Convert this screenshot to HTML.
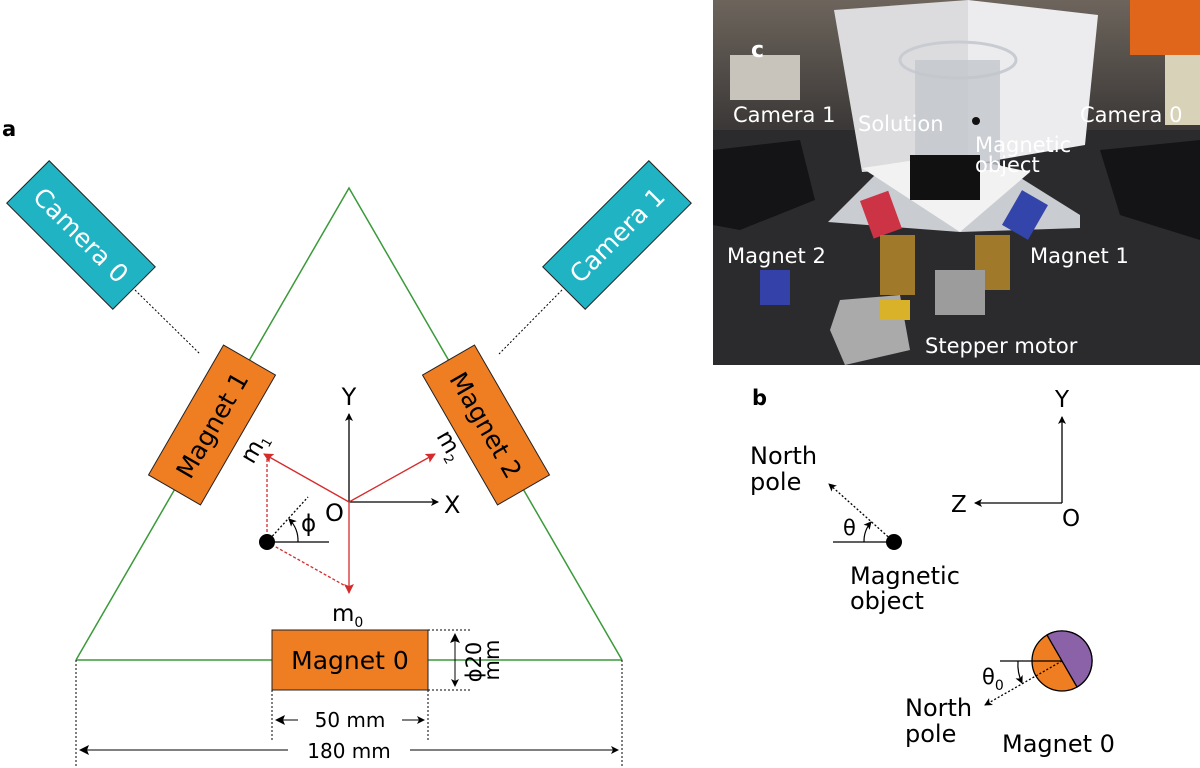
<!DOCTYPE html>
<html><head><meta charset="utf-8"><style>
body{margin:0;background:#fff;}
svg{display:block;font-family:"DejaVu Sans","Liberation Sans",sans-serif;}
</style></head><body>
<svg width="1200" height="768" viewBox="0 0 1200 768" xmlns="http://www.w3.org/2000/svg">
<defs>
<marker id="ak" markerWidth="8" markerHeight="8" refX="7" refY="4" orient="auto" markerUnits="userSpaceOnUse"><path d="M0,0 L8,4 L0,8 L2,4z" fill="#000"/></marker>
<marker id="ar" markerWidth="10" markerHeight="10" refX="9" refY="5" orient="auto" markerUnits="userSpaceOnUse"><path d="M0,0 L10,5 L0,10 L2,5z" fill="#d62b2b"/></marker>
<marker id="as" markerWidth="10" markerHeight="10" refX="1" refY="5" orient="auto" markerUnits="userSpaceOnUse"><path d="M10,0 L0,5 L10,10 L8,5z" fill="#000"/></marker>
<linearGradient id="bg" x1="0" y1="0" x2="0" y2="1"><stop offset="0" stop-color="#6d655c"/><stop offset="0.35" stop-color="#3b3837"/><stop offset="1" stop-color="#252527"/></linearGradient>
</defs>

<!-- Photo c -->
<g>
<rect x="713" y="0" width="487" height="365" fill="url(#bg)"/>
<rect x="730" y="55" width="70" height="45" fill="#c8c3bb"/>
<rect x="1130" y="0" width="70" height="55" fill="#e0661c"/>
<rect x="1165" y="55" width="35" height="70" fill="#d8d2b8"/>
<rect x="713" y="130" width="487" height="235" fill="#2b2b2e"/>
<polygon points="713,150 800,140 815,200 740,230 713,225" fill="#141416"/>
<polygon points="1100,150 1200,140 1200,240 1120,215" fill="#141416"/>
<polygon points="834,10 968,0 968,165 862,172" fill="#dcdcde"/>
<polygon points="968,0 1098,15 1085,145 968,165" fill="#ececee"/>
<polygon points="828,222 880,170 1000,165 1080,215 1080,228 960,232" fill="#c9ccd0"/>
<polygon points="862,168 950,155 1030,172 960,232" fill="#f2f2f2"/>
<ellipse cx="958" cy="60" rx="58" ry="18" fill="none" stroke="#c8ccd2" stroke-width="3"/>
<rect x="915" y="60" width="85" height="110" fill="#c3c7cc" opacity="0.8"/>
<rect x="910" y="155" width="70" height="45" fill="#111"/>
<circle cx="976" cy="121" r="4" fill="#111"/>
<rect x="866" y="195" width="30" height="40" fill="#cc3344" transform="rotate(-20 880 215)"/>
<rect x="1010" y="195" width="30" height="40" fill="#3344aa" transform="rotate(30 1025 215)"/>
<rect x="880" y="235" width="35" height="60" fill="#a07a2a"/>
<rect x="975" y="235" width="35" height="55" fill="#a07a2a"/>
<polygon points="840,300 900,295 910,350 845,365 830,330" fill="#aaa"/>
<rect x="880" y="300" width="30" height="20" fill="#d9b22a"/>
<rect x="935" y="270" width="50" height="45" fill="#9c9c9c"/>
<rect x="760" y="270" width="30" height="35" fill="#3341a8"/>
<g fill="#fff" font-size="21">
<text x="751" y="57" font-weight="bold" font-size="22">c</text>
<text x="733" y="122">Camera 1</text>
<text x="858" y="131">Solution</text>
<text x="975" y="152">Magnetic</text>
<text x="975" y="172">object</text>
<text x="1080" y="122">Camera 0</text>
<text x="727" y="263">Magnet 2</text>
<text x="1030" y="263">Magnet 1</text>
<text x="925" y="353">Stepper motor</text>
</g>
</g>

<!-- Panel a -->
<text x="2" y="136" font-weight="bold" font-size="21">a</text>
<polyline points="76,660 349,188 622,660" fill="none" stroke="#3a9a3a" stroke-width="1.5"/>
<line x1="76" y1="660" x2="272" y2="660" stroke="#3a9a3a" stroke-width="1.5"/>
<line x1="428" y1="660" x2="622" y2="660" stroke="#3a9a3a" stroke-width="1.5"/>

<g transform="translate(81,235) rotate(45)">
<rect x="-75" y="-30" width="150" height="60" fill="#1fb3c3" stroke="#222" stroke-width="1"/>
<text x="0" y="9" fill="#fff" font-size="25" text-anchor="middle">Camera 0</text>
</g>
<g transform="translate(617,235) rotate(-45)">
<rect x="-75" y="-30" width="150" height="60" fill="#1fb3c3" stroke="#222" stroke-width="1"/>
<text x="0" y="9" fill="#fff" font-size="25" text-anchor="middle">Camera 1</text>
</g>
<line x1="135" y1="290" x2="200" y2="354" stroke="#000" stroke-dasharray="2,2"/>
<line x1="562" y1="290" x2="499" y2="354" stroke="#000" stroke-dasharray="2,2"/>

<g transform="translate(212,425) rotate(30)">
<rect x="-30" y="-75" width="60" height="150" fill="#ef7d22" stroke="#222"/>
<text x="0" y="9" font-size="25" text-anchor="middle" transform="rotate(-90)">Magnet 1</text>
</g>
<g transform="translate(486,425) rotate(-30)">
<rect x="-30" y="-75" width="60" height="150" fill="#ef7d22" stroke="#222"/>
<text x="0" y="9" font-size="25" text-anchor="middle" transform="rotate(90)">Magnet 2</text>
</g>
<rect x="272" y="630" width="156" height="60" fill="#ef7d22" stroke="#222"/>
<text x="350" y="669" font-size="25" text-anchor="middle">Magnet 0</text>

<!-- axes -->
<line x1="349" y1="502" x2="349" y2="414" stroke="#000" stroke-width="1.3" marker-end="url(#ak)"/>
<line x1="349" y1="502" x2="438" y2="502" stroke="#000" stroke-width="1.3" marker-end="url(#ak)"/>
<text x="349" y="405" font-size="24" text-anchor="middle">Y</text>
<text x="444" y="513" font-size="24">X</text>
<text x="325" y="521" font-size="24">O</text>

<!-- red vectors -->
<line x1="349" y1="502" x2="264" y2="454" stroke="#d62b2b" stroke-width="1.3" marker-end="url(#ar)"/>
<line x1="349" y1="502" x2="435" y2="454" stroke="#d62b2b" stroke-width="1.3" marker-end="url(#ar)"/>
<line x1="349" y1="502" x2="349" y2="593" stroke="#d62b2b" stroke-width="1.3" marker-end="url(#ar)"/>
<line x1="267" y1="542" x2="267" y2="458" stroke="#d62b2b" stroke-width="1.3" stroke-dasharray="3,2"/>
<line x1="267" y1="542" x2="349" y2="588" stroke="#d62b2b" stroke-width="1.3" stroke-dasharray="3,2"/>
<text font-size="23" transform="translate(253,465) rotate(-60)">m<tspan font-size="13" dy="5">1</tspan></text>
<text font-size="23" transform="translate(436,436) rotate(60)">m<tspan font-size="13" dy="5">2</tspan></text>
<text x="332" y="621" font-size="23">m<tspan font-size="14" dy="6">0</tspan></text>

<circle cx="267" cy="542" r="8" fill="#000"/>
<line x1="267" y1="542" x2="329" y2="542" stroke="#000" stroke-width="1.3"/>
<line x1="267" y1="542" x2="308" y2="497" stroke="#000" stroke-width="1.3" stroke-dasharray="2,2"/>
<path d="M298,542 A31,31 0 0 0 289,519" fill="none" stroke="#000" stroke-width="1.2" marker-end="url(#ak)"/>
<text x="301" y="531" font-size="23">ϕ</text>

<!-- dims -->
<g stroke="#000" stroke-dasharray="2,2">
<line x1="272" y1="690" x2="272" y2="740"/>
<line x1="428" y1="690" x2="428" y2="740"/>
<line x1="76" y1="660" x2="76" y2="768"/>
<line x1="622" y1="660" x2="622" y2="768"/>
<line x1="428" y1="630" x2="470" y2="630"/>
<line x1="428" y1="690" x2="470" y2="690"/>
</g>
<line x1="276" y1="720" x2="298" y2="720" stroke="#000" marker-start="url(#as)"/>
<line x1="402" y1="720" x2="424" y2="720" stroke="#000" marker-end="url(#ak)"/>
<text x="350" y="727" font-size="20" text-anchor="middle">50 mm</text>
<line x1="80" y1="750" x2="288" y2="750" stroke="#000" marker-start="url(#as)"/>
<line x1="410" y1="750" x2="618" y2="750" stroke="#000" marker-end="url(#ak)"/>
<text x="349" y="758" font-size="20" text-anchor="middle">180 mm</text>
<line x1="455" y1="634" x2="455" y2="686" stroke="#000" marker-start="url(#as)" marker-end="url(#ak)"/>
<text font-size="21" text-anchor="middle" transform="translate(481,662) rotate(-90)">ϕ20</text>
<text font-size="21" text-anchor="middle" transform="translate(499,660) rotate(-90)">mm</text>

<!-- Panel b -->
<text x="752" y="405" font-weight="bold" font-size="21">b</text>
<line x1="1062" y1="503" x2="1062" y2="417" stroke="#000" stroke-width="1.3" marker-end="url(#ak)"/>
<line x1="1062" y1="503" x2="975" y2="503" stroke="#000" stroke-width="1.3" marker-end="url(#ak)"/>
<text x="1062" y="407" font-size="23" text-anchor="middle">Y</text>
<text x="951" y="512" font-size="23">Z</text>
<text x="1062" y="526" font-size="23">O</text>
<circle cx="894" cy="542" r="8" fill="#000"/>
<line x1="833" y1="542" x2="894" y2="542" stroke="#000" stroke-width="1.3"/>
<line x1="894" y1="542" x2="829" y2="484" stroke="#000" stroke-width="1.3" stroke-dasharray="2,2" marker-end="url(#ak)"/>
<path d="M864,542 A30,30 0 0 1 871,522" fill="none" stroke="#000" stroke-width="1.2" marker-end="url(#ak)"/>
<text x="843" y="535" font-size="21">θ</text>
<text x="750" y="464" font-size="24">North</text>
<text x="750" y="490" font-size="24">pole</text>
<text x="850" y="584" font-size="24">Magnetic</text>
<text x="850" y="609" font-size="24">object</text>
<circle cx="1062" cy="661" r="30" fill="#ef7d22" stroke="#000" stroke-width="1.3"/>
<path d="M1047,635 A30,30 0 0 1 1077,687 Z" fill="#8b62a8" stroke="#000" stroke-width="1.3"/>
<line x1="1000" y1="661" x2="1062" y2="661" stroke="#000" stroke-width="1.3"/>
<line x1="1062" y1="661" x2="985" y2="705" stroke="#000" stroke-width="1.3" stroke-dasharray="2,2" marker-end="url(#ak)"/>
<path d="M1018,661 A44,44 0 0 0 1022,683" fill="none" stroke="#000" stroke-width="1.2" marker-end="url(#ak)"/>
<text x="982" y="684" font-size="21">θ<tspan font-size="14" dy="6">0</tspan></text>
<text x="905" y="716" font-size="24">North</text>
<text x="905" y="742" font-size="24">pole</text>
<text x="1002" y="752" font-size="24">Magnet 0</text>
</svg>
</body></html>
